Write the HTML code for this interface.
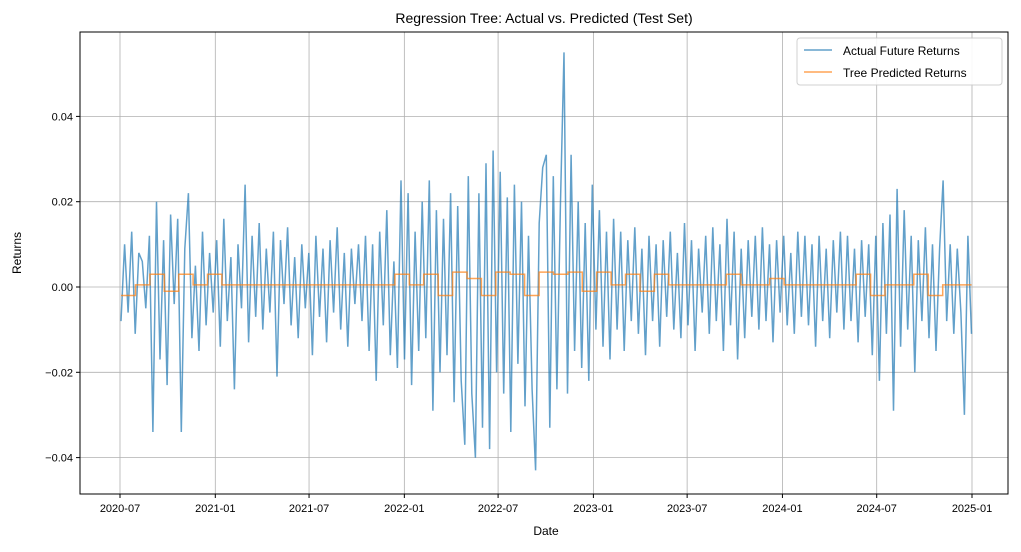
<!DOCTYPE html>
<html><head><meta charset="utf-8"><style>
body{margin:0;background:#fff;font-family:"Liberation Sans",sans-serif}
svg text{font-family:"Liberation Sans",sans-serif;fill:#000}
</style></head><body>
<svg id="chart" width="1021" height="547" viewBox="0 0 1021 547">
<text x="544" y="23" text-anchor="middle" font-size="14">Regression Tree: Actual vs. Predicted (Test Set)</text>
<text x="546" y="535" text-anchor="middle" font-size="12">Date</text>
<text transform="translate(21,253) rotate(-90)" text-anchor="middle" font-size="12">Returns</text>
<g id="grid"></g>
<g id="ticks"></g>
<g id="series"></g>
<rect x="80" y="32" width="928" height="462" fill="none" stroke="#000" stroke-width="1"/>
<g>
<rect x="797" y="38" width="205" height="47" rx="3" fill="#fff" stroke="#ccc" opacity="0.9"/>
<line x1="804" y1="50" x2="832" y2="50" stroke="#1f77b4" stroke-opacity="0.7" stroke-width="1.5"/>
<text x="843" y="55" font-size="12">Actual Future Returns</text>
<line x1="804" y1="72" x2="832" y2="72" stroke="#ff7f0e" stroke-opacity="0.7" stroke-width="1.5"/>
<text x="843" y="77" font-size="12">Tree Predicted Returns</text>
</g>
</svg>
<script>
const startDate = "2020-07-03";
const endDate = "2024-12-31";
const xTickLabels = ["2020-07","2021-01","2021-07","2022-01","2022-07","2023-01","2023-07","2024-01","2024-07","2025-01"];
const yTickValues = [-0.04,-0.02,0.00,0.02,0.04];
const yTickLabels = ["−0.04","−0.02","0.00","0.02","0.04"];
const actual = [
-0.008,0.010,-0.006,0.013,-0.011,0.008,0.006,-0.005,0.012,-0.034,
0.020,-0.017,0.011,-0.023,0.017,-0.004,0.016,-0.034,0.009,0.022,
-0.012,0.005,-0.015,0.013,-0.009,0.008,-0.006,0.011,-0.014,0.016,
-0.008,0.007,-0.024,0.010,-0.005,0.024,-0.013,0.012,-0.007,0.015,
-0.010,0.009,-0.006,0.013,-0.021,0.011,-0.004,0.014,-0.009,0.007,
-0.012,0.010,-0.005,0.008,-0.016,0.012,-0.007,0.009,-0.013,0.011,
-0.006,0.014,-0.010,0.008,-0.014,0.009,-0.004,0.010,-0.008,0.012,
-0.015,0.010,-0.022,0.013,-0.009,0.018,-0.016,0.006,-0.019,0.025,
-0.017,0.022,-0.023,0.013,-0.015,0.020,-0.012,0.025,-0.029,0.018,
-0.020,0.016,-0.016,0.022,-0.027,0.019,-0.022,-0.037,0.026,-0.025,
-0.040,0.022,-0.033,0.029,-0.038,0.032,-0.020,0.027,-0.025,0.021,
-0.034,0.024,-0.018,0.020,-0.028,0.012,-0.024,-0.043,0.015,0.028,
0.031,-0.033,0.026,-0.024,0.019,0.055,-0.025,0.031,-0.015,0.020,
-0.019,0.015,-0.022,0.024,-0.010,0.018,-0.014,0.013,-0.017,0.016,
-0.010,0.013,-0.015,0.011,-0.008,0.014,-0.011,0.009,-0.016,0.012,
-0.008,0.010,-0.014,0.011,-0.007,0.013,-0.010,0.008,-0.012,0.015,
-0.009,0.011,-0.015,0.009,-0.006,0.012,-0.011,0.014,-0.008,0.010,
-0.015,0.016,-0.009,0.013,-0.017,0.009,-0.012,0.011,-0.007,0.012,
-0.010,0.014,-0.008,0.010,-0.013,0.011,-0.006,0.012,-0.009,0.008,
-0.011,0.013,-0.007,0.012,-0.009,0.010,-0.014,0.012,-0.008,0.009,
-0.012,0.011,-0.006,0.013,-0.010,0.012,-0.008,0.009,-0.013,0.011,
-0.007,0.010,-0.016,0.012,-0.022,0.015,-0.011,0.017,-0.029,0.023,
-0.014,0.018,-0.010,0.012,-0.020,0.011,-0.008,0.014,-0.012,0.010,
-0.015,0.009,0.025,-0.008,0.010,-0.011,0.009,-0.006,-0.030,0.012,-0.011];
const predicted = [
-0.002,0.0005,0.003,-0.001,0.003,0.0005,0.003,0.0005,0.0005,0.0005,
0.0005,0.0005,0.0005,0.0005,0.0005,0.0005,0.0005,0.0005,0.0005,0.003,
0.0005,0.003,-0.002,0.0035,0.002,-0.002,0.0035,0.003,-0.002,0.0035,
0.003,0.0035,-0.001,0.0035,0.0005,0.003,-0.001,0.003,0.0005,0.0005,
0.0005,0.0005,0.003,0.0005,0.0005,0.002,0.0005,0.0005,0.0005,0.0005,
0.0005,0.003,-0.002,0.0005,0.0005,0.003,-0.002,0.0005,0.0005,0.0005];

const NS="http://www.w3.org/2000/svg";
const L=80,R=1008,T=32,B=494;
const t0=Date.parse("2020-07-01"), t1=Date.parse("2025-01-01");
function xDate(ms){return 120+(ms-t0)/(t1-t0)*(972-120);}
function y(v){return 287-v/0.02*85.3;}
const s0=Date.parse(startDate), s1=Date.parse(endDate);
const grid=document.getElementById('grid'), ticks=document.getElementById('ticks'), series=document.getElementById('series');
function mk(tag,attrs,parent){const e=document.createElementNS(NS,tag);for(const k in attrs)e.setAttribute(k,attrs[k]);parent.appendChild(e);return e;}
xTickLabels.forEach(lab=>{
  const x=xDate(Date.parse(lab+"-01"));
  const g=mk('line',{x1:x,x2:x,y1:T,y2:B,stroke:'#b0b0b0','stroke-width':0.8},grid);
  
  
  mk('line',{x1:x,x2:x,y1:B,y2:B+4,stroke:'#000'},ticks);
  const t=mk('text',{x:x,y:B+18,'text-anchor':'middle','font-size':11},ticks);
  
  
  t.textContent=lab;
});
yTickValues.forEach((v,i)=>{
  const yy=y(v);
  const g=mk('line',{x1:L,x2:R,y1:yy,y2:yy,stroke:'#b0b0b0','stroke-width':0.8},grid);
  
  
  mk('line',{x1:L-4,x2:L,y1:yy,y2:yy,stroke:'#000'},ticks);
  const t=mk('text',{x:L-7,y:yy+4,'text-anchor':'end','font-size':11},ticks);
  
  
  t.textContent=yTickLabels[i];
});
function pathFor(arr,step){
  let d='';
  arr.forEach((v,i)=>{
    const x=xDate(s0+(s1-s0)*i/(arr.length-1));
    if(step&&i>0){d+='L'+x.toFixed(1)+','+y(arr[i-1]).toFixed(1);}
    d+=(i?'L':'M')+x.toFixed(1)+','+y(v).toFixed(1);
  });
  return d;
}
const pa=mk('path',{d:pathFor(actual,false),fill:'none',stroke:'#1f77b4','stroke-opacity':0.7,'stroke-width':1.5},series);


const pp=mk('path',{d:pathFor(predicted,true),fill:'none',stroke:'#ff7f0e','stroke-opacity':0.7,'stroke-width':1.5},series);


</script>
</body></html>
